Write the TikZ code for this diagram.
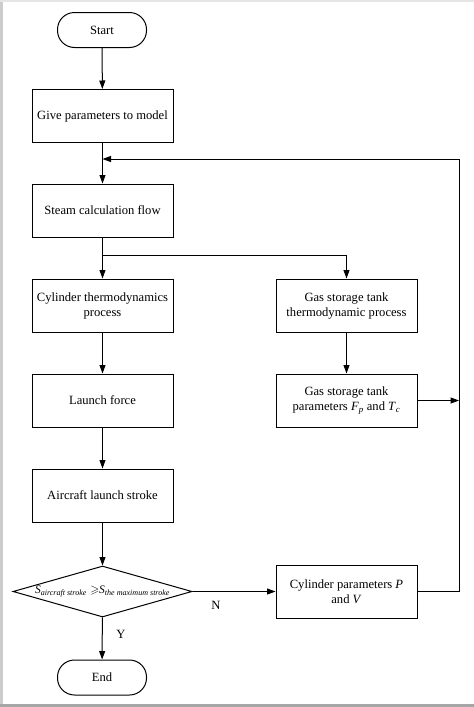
\documentclass[tikz,border=0pt]{standalone}
\usepackage{amsmath,amssymb}
\usepackage{fontspec}
\setmainfont{Liberation Serif}
\usetikzlibrary{shapes.geometric,arrows.meta}
\begin{document}
\begin{tikzpicture}[x=1pt,y=-1pt,
  every node/.style={font=\fontsize{12.6}{15}\selectfont},
  stepbox/.style={draw, line width=1pt, minimum width=141pt, minimum height=53pt, align=center, inner sep=2pt},
  termbox/.style={draw, line width=1pt, rounded corners=17pt, minimum width=89pt, minimum height=35pt},
  decision/.style={draw, line width=1pt, diamond, minimum width=179pt, minimum height=51pt, inner sep=0pt},
  flow/.style={line width=1pt, -{Triangle[length=8.5pt,width=6pt]}},
  plain/.style={line width=1pt}
]
\useasboundingbox (0,0) rectangle (474,707);
\fill[white] (0,0) rectangle (474,707);
% frame
\fill[black!20] (0,0) rectangle (2.5,707);
\fill[black!10] (0,0) rectangle (474,1.5);
\fill[black!35] (0,704) rectangle (474,707);

\node[termbox] (start) at (102,30) {Start};
\node[stepbox] (give) at (102.5,116) {Give parameters to model};
\node[stepbox] (steam) at (102.5,210.5) {Steam calculation flow};
\node[stepbox] (cyl) at (102.5,305.5) {Cylinder thermodynamics\\process};
\node[stepbox] (gas) at (346.5,305.5) {Gas storage tank\\thermodynamic process};
\node[stepbox] (force) at (102.5,400.5) {Launch force};
\node[stepbox] (gasp) at (346.5,400.5) {Gas storage tank\\parameters \textit{F}$_{\text{\itshape p}}$ and \textit{T}$_{\text{\itshape c}}$};
\node[stepbox] (stroke) at (102.5,495.5) {Aircraft launch stroke};
\node[decision] (dec) at (102.5,591.5) {};
\node[font=\fontsize{11.5}{13}\selectfont] (dectext) at (dec.center) {\textit{S}$_{\text{\itshape aircraft stroke}}\geqslant$\textit{S}$_{\text{\itshape the maximum stroke}}$};
\node[stepbox] (cylp) at (346.5,591.5) {Cylinder parameters \textit{P}\\and \textit{V}};
\node[termbox] (end) at (102,677.5) {End};

\coordinate (split) at (102.5,255);
\coordinate (loopin) at (102.5,159);
\coordinate (cornerB) at (459,591.5);
\coordinate (cornerT) at (459,159);
\coordinate (gasout) at (459,400.5);

\draw[flow] (start) -- (give);
\draw[flow] (give) -- (steam);
\draw[flow] (steam) -- (cyl);
\draw[flow] (split) -| (gas);
\draw[flow] (gas) -- (gasp);
\draw[flow] (cyl) -- (force);
\draw[flow] (force) -- (stroke);
\draw[flow] (stroke) -- (dec);
\draw[flow] (dec) -- (end);
\draw[flow] (dec.east) -- (cylp.west);
\node (ylab) at (121,634) {Y};
\node (nlab) at (216,605) {N};
\draw[plain] (cylp.east) -- (cornerB) -- (cornerT);
\draw[flow] (cornerT) -- (loopin);
\draw[flow] (gasp.east) -- (gasout);
\end{tikzpicture}
\end{document}
